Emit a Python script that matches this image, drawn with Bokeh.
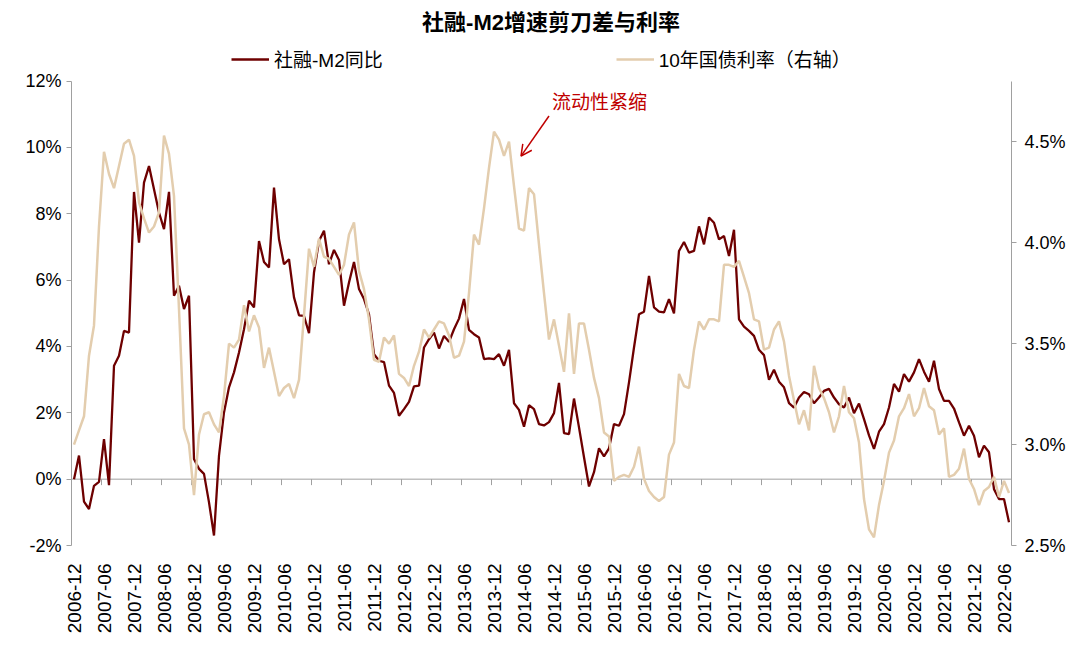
import math
import pandas as pd
from bokeh.plotting import figure
from bokeh.models import (Range1d, LinearAxis, FixedTicker, PrintfTickFormatter,
                          Span, Legend, LegendItem, Arrow, OpenHead, Label)
from bokeh.embed import file_html
from bokeh.resources import INLINE

# ---------------- data ----------------
months = [p.strftime("%Y-%m") for p in pd.period_range("2006-12", periods=188, freq="M")]

sf_m2 = [0.00, 0.71, -0.68, -0.90, -0.20, -0.08, 1.21, -0.18, 3.42, 3.72, 4.47, 4.42,
         8.66, 7.13, 8.94, 9.44, 8.74, 8.04, 7.54, 8.66, 5.53, 5.83, 5.13, 5.53,
         0.61, 0.31, 0.16, -0.70, -1.70, 0.71, 2.01, 2.77, 3.22, 3.82, 4.52, 5.38,
         5.18, 7.18, 6.55, 6.38, 8.79, 7.23, 6.48, 6.63, 5.48, 4.94, 4.92, 4.40,
         6.23, 7.18, 7.49, 6.48, 6.91, 6.61, 5.23, 5.93, 6.55, 5.73, 5.43, 4.97,
         3.77, 3.57, 3.53, 2.82, 2.60, 1.91, 2.11, 2.33, 2.80, 2.82, 3.97, 4.22,
         4.42, 3.94, 4.32, 4.14, 4.52, 4.84, 5.43, 4.50, 4.37, 4.27, 3.62, 3.64,
         3.62, 3.77, 3.42, 3.90, 2.29, 2.09, 1.58, 2.23, 2.11, 1.66, 1.62, 1.72,
         1.99, 2.90, 1.39, 1.36, 2.43, 1.56, 0.66, -0.22, 0.21, 0.93, 0.69, 0.93,
         1.66, 1.61, 1.96, 2.92, 3.97, 4.97, 5.05, 6.13, 5.18, 5.05, 5.03, 5.43,
         5.00, 6.88, 7.15, 6.83, 6.88, 7.62, 7.08, 7.89, 7.73, 7.23, 7.33, 6.73,
         7.52, 4.82, 4.60, 4.47, 4.32, 3.90, 3.74, 3.00, 3.30, 2.94, 2.77, 2.29,
         2.16, 2.46, 2.63, 2.56, 2.29, 2.46, 2.66, 2.72, 2.46, 2.26, 2.16, 2.46,
         1.99, 2.28, 1.81, 1.32, 0.91, 1.43, 1.66, 2.16, 2.87, 2.64, 3.17, 2.94,
         3.22, 3.62, 3.24, 2.94, 3.57, 2.72, 2.36, 2.36, 2.13, 1.71, 1.31, 1.61,
         1.31, 0.66, 1.01, 0.81, -0.30, -0.60, -0.60, -1.30]

bond10y = [3.00, 3.07, 3.14, 3.44, 3.59, 4.08, 4.45, 4.34, 4.27, 4.38, 4.49, 4.51,
           4.43, 4.20, 4.12, 4.05, 4.08, 4.15, 4.53, 4.44, 4.23, 3.67, 3.08, 3.00,
           2.75, 3.05, 3.15, 3.16, 3.10, 3.06, 3.24, 3.50, 3.48, 3.52, 3.69, 3.56,
           3.64, 3.58, 3.38, 3.48, 3.36, 3.24, 3.28, 3.30, 3.23, 3.32, 3.64, 3.97,
           3.88, 4.02, 3.93, 3.92, 3.88, 3.84, 3.89, 4.04, 4.10, 3.86, 3.77, 3.62,
           3.42, 3.41, 3.53, 3.50, 3.54, 3.35, 3.33, 3.29, 3.39, 3.46, 3.57, 3.53,
           3.57, 3.61, 3.60, 3.54, 3.43, 3.44, 3.51, 3.75, 4.04, 3.99, 4.17, 4.37,
           4.55, 4.51, 4.43, 4.50, 4.28, 4.07, 4.06, 4.27, 4.24, 3.99, 3.75, 3.52,
           3.62, 3.49, 3.36, 3.65, 3.35, 3.60, 3.60, 3.47, 3.33, 3.23, 3.06, 3.04,
           2.82, 2.84, 2.85, 2.84, 2.89, 2.99, 2.83, 2.77, 2.74, 2.72, 2.74, 2.95,
           3.01, 3.35, 3.29, 3.28, 3.47, 3.61, 3.57, 3.62, 3.62, 3.61, 3.89, 3.89,
           3.88, 3.91, 3.83, 3.75, 3.62, 3.61, 3.47, 3.48, 3.57, 3.61, 3.51, 3.34,
           3.22, 3.10, 3.17, 3.07, 3.39, 3.28, 3.23, 3.16, 3.06, 3.14, 3.29, 3.16,
           3.13, 3.01, 2.73, 2.58, 2.54, 2.70, 2.82, 2.96, 3.02, 3.14, 3.18, 3.25,
           3.14, 3.18, 3.28, 3.19, 3.17, 3.05, 3.08, 2.84, 2.85, 2.88, 2.98, 2.83,
           2.78, 2.70, 2.77, 2.79, 2.84, 2.74, 2.82, 2.76]

left_ticks = [-2, 0, 2, 4, 6, 8, 10, 12]
right_ticks = [2.5, 3.0, 3.5, 4.0, 4.5]
label_idx = list(range(0, 188, 6))
tick_labels = {i: months[i] for i in label_idx}

title_text = "社融-M2增速剪刀差与利率"
name_a = "社融-M2同比"
name_b = "10年国债利率（右轴）"
note_text = "流动性紧缩"

# ---------------- styling / layout ----------------
FONT = "Liberation Sans, Noto Sans CJK SC"
RED = "#6E0000"
BEIGE = "#E3CDAE"
GREY = "#A0A0A0"

L_LO, L_HI = -2, 12          # left axis extent
R_LO, R_HI = 2.5, 4.8        # right axis extent
TOP_EXTRA = 2.25             # room above the axes (title + legend), in left units
y_top = L_HI + TOP_EXTRA
r_top = R_LO + (y_top - L_LO) * (R_HI - R_LO) / (L_HI - L_LO)

x = list(range(len(months)))

p = figure(width=1072, height=656, output_backend="svg", toolbar_location=None,
           x_range=Range1d(-0.5, len(months) - 0.5), y_range=Range1d(L_LO, y_top),
           min_border_left=71, min_border_right=61, min_border_top=6,
           min_border_bottom=111)
p.extra_y_ranges = {"right": Range1d(R_LO, r_top)}
p.grid.visible = False
p.outline_line_color = None
p.background_fill_color = "white"
p.border_fill_color = "white"

# x axis (labels at bottom)
xa = p.xaxis[0]
xa.ticker = FixedTicker(ticks=label_idx)
xa.major_label_overrides = tick_labels
xa.major_label_orientation = math.pi / 2
xa.axis_line_color = None
xa.major_tick_line_color = None
xa.minor_tick_line_color = None
xa.major_label_text_font = FONT
xa.major_label_text_font_size = "19px"
xa.major_label_text_color = "black"
xa.major_label_standoff = 12

# left axis
ya = p.yaxis[0]
ya.ticker = FixedTicker(ticks=left_ticks)
ya.bounds = (L_LO, L_HI)
ya.formatter = PrintfTickFormatter(format="%d%%")
ya.axis_line_color = GREY
ya.major_tick_line_color = GREY
ya.major_tick_out = 5
ya.major_tick_in = 0
ya.minor_tick_line_color = None
ya.major_label_text_font = FONT
ya.major_label_text_font_size = "18px"
ya.major_label_text_color = "black"
ya.major_label_standoff = 5

# right axis
ra = LinearAxis(y_range_name="right", ticker=FixedTicker(ticks=right_ticks),
                formatter=PrintfTickFormatter(format="%.1f%%"), bounds=(R_LO, R_HI))
ra.axis_line_color = GREY
ra.major_tick_line_color = GREY
ra.major_tick_out = 5
ra.major_tick_in = 0
ra.minor_tick_line_color = None
ra.major_label_text_font = FONT
ra.major_label_text_font_size = "18px"
ra.major_label_text_color = "black"
ra.major_label_standoff = 8
p.add_layout(ra, "right")

# zero line with category-boundary ticks
p.add_layout(Span(location=0, dimension="width", line_color=GREY, line_width=1,
                  level="underlay"))
bx = [i - 0.5 for i in label_idx[1:]]
p.segment(x0=bx, y0=[0] * len(bx), x1=bx, y1=[-0.18] * len(bx),
          line_color=GREY, line_width=1, level="underlay")

r_a = p.line(x, sf_m2, line_color=RED, line_width=2.3)
r_b = p.line(x, bond10y, line_color=BEIGE, line_width=2.5, y_range_name="right")

# title (inside the top margin of the frame)
p.add_layout(Label(x=95.4, y=13.77, text=title_text, text_font=FONT,
                   text_font_size="22px", text_font_style="bold",
                   text_color="black", text_align="center", text_baseline="middle"))

legend = Legend(items=[LegendItem(label=name_a, renderers=[r_a]),
                       LegendItem(label=name_b, renderers=[r_b])],
                orientation="horizontal", location=(160, 473),
                spacing=233, glyph_width=38, glyph_height=20, label_height=20,
                label_standoff=5,
                label_text_font=FONT, label_text_font_size="19px",
                label_text_color="black", border_line_color=None,
                background_fill_alpha=0, padding=0, margin=0)
p.add_layout(legend)

# annotation
p.add_layout(Arrow(end=OpenHead(line_color="#C00000", line_width=1.5, size=11),
                   x_start=95.0, y_start=10.95, x_end=89.4, y_end=9.74,
                   line_color="#C00000", line_width=1.5))
p.add_layout(Label(x=95.6, y=11.37, text=note_text, text_font=FONT,
                   text_font_size="19px", text_color="#C00000",
                   text_baseline="middle", text_align="left"))

open("out.html", "w").write(file_html(p, INLINE))
